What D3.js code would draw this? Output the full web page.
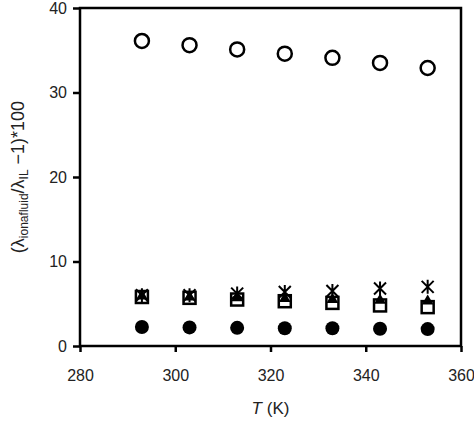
<!DOCTYPE html>
<html><head><meta charset="utf-8">
<script src="https://cdn.jsdelivr.net/npm/d3@7"></script>
<style>body{margin:0;background:#fff}svg{font-family:Arial,"Liberation Sans",sans-serif}</style>
</head><body><div id="chart"></div>
<script>
var temps = [293, 303, 313, 323, 333, 343, 353];
var openCircle = [36.1, 35.6, 35.1, 34.6, 34.1, 33.5, 32.9];
var filledCircle = [2.25, 2.2, 2.15, 2.1, 2.1, 2.05, 2.0];
var squares = [5.8, 5.7, 5.5, 5.3, 5.1, 4.8, 4.6];
var triangles = [5.9, 5.8, 5.7, 5.6, 5.5, 5.4, 5.3];
var stars = [6.0, 6.0, 6.2, 6.4, 6.5, 6.8, 7.0];
var xTicks = [280, 300, 320, 340, 360];
var yTicks = [0, 10, 20, 30, 40];

var svg = d3.select("#chart").append("svg").attr("width", 474).attr("height", 424);
var margin = {left: 80, top: 8, right: 13, bottom: 78};
var width = 474 - margin.left - margin.right;
var height = 424 - margin.top - margin.bottom;
var g = svg.append("g").attr("transform", `translate(${margin.left},${margin.top})`);

var x = d3.scaleLinear().domain([280, 360]).range([0, width]);
var y = d3.scaleLinear().domain([0, 40]).range([height, 0]);

// frame
g.append("rect").attr("width", width).attr("height", height)
  .attr("fill", "none").attr("stroke", "#000").attr("stroke-width", 2.5);

var xAxis = g.append("g").attr("transform", `translate(0,${height})`)
  .call(d3.axisBottom(x).tickValues(xTicks).tickSize(6).tickPadding(18).tickFormat(d3.format("d")));
var yAxis = g.append("g")
  .call(d3.axisLeft(y).tickValues(yTicks).tickSize(7).tickPadding(6));
[xAxis, yAxis].forEach(function(a) {
  a.select(".domain").remove();
  a.selectAll("line").attr("stroke-width", 2.5);
  a.selectAll("text").attr("font-size", 16).attr("fill", "#222");
});

// markers
g.selectAll(".sq").data(squares).enter().append("rect")
  .attr("x", (d, i) => x(temps[i]) - 6).attr("y", d => y(d) - 6)
  .attr("width", 12).attr("height", 12)
  .attr("fill", "#fff").attr("stroke", "#000").attr("stroke-width", 2.5);
g.selectAll(".tri").data(triangles).enter().append("path")
  .attr("transform", (d, i) => `translate(${x(temps[i])},${y(d)})`)
  .attr("d", d3.symbol().type(d3.symbolTriangle).size(60)).attr("fill", "#000");
g.selectAll(".st").data(stars).enter().append("path")
  .attr("transform", (d, i) => `translate(${x(temps[i])},${y(d)})`)
  .attr("d", "M-6,-6L6,6M-6,6L6,-6M0,-7L0,7")
  .attr("stroke", "#000").attr("stroke-width", 2);
g.selectAll(".fc").data(filledCircle).enter().append("circle")
  .attr("cx", (d, i) => x(temps[i])).attr("cy", d => y(d)).attr("r", 7).attr("fill", "#000");
g.selectAll(".oc").data(openCircle).enter().append("circle")
  .attr("cx", (d, i) => x(temps[i])).attr("cy", d => y(d)).attr("r", 7)
  .attr("fill", "#fff").attr("stroke", "#000").attr("stroke-width", 2.5);

// labels
svg.append("text").attr("x", margin.left + width / 2).attr("y", 414)
  .attr("text-anchor", "middle").attr("font-size", 17).attr("fill", "#222")
  .html('<tspan font-style="italic">T</tspan> (K)');
svg.append("text").attr("transform", `translate(24,${margin.top + height / 2}) rotate(-90)`)
  .attr("text-anchor", "middle").attr("font-size", 18).attr("fill", "#222")
  .html('(λ<tspan font-size="12" dy="4">ionafluid</tspan><tspan dy="-4">/λ</tspan><tspan font-size="12" dy="4">IL</tspan><tspan dy="-4"> −1)*100</tspan>');
</script></body></html>
